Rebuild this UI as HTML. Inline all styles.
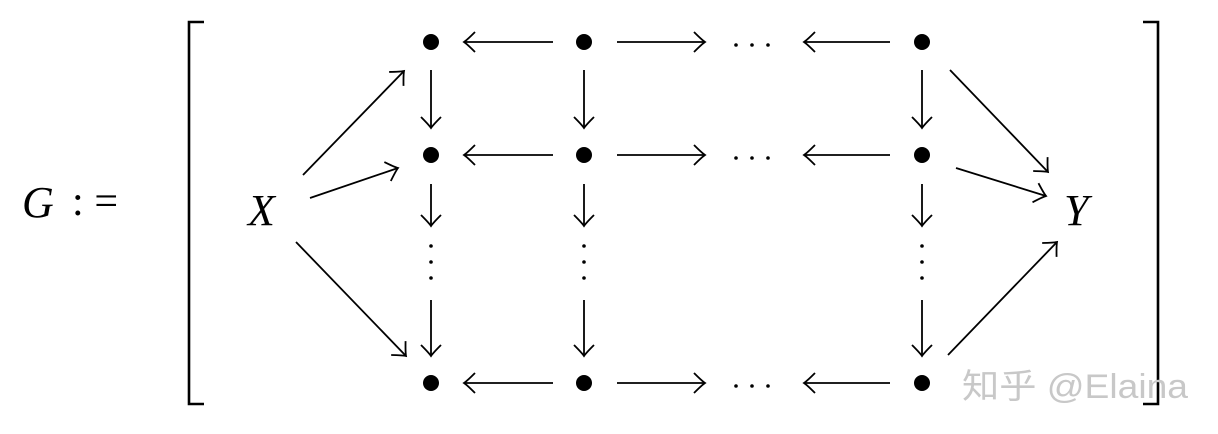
<!DOCTYPE html>
<html><head><meta charset="utf-8"><style>
html,body{margin:0;padding:0;background:#fff;}
svg{display:block}
</style></head><body>
<svg width="1218" height="434" viewBox="0 0 1218 434" xmlns="http://www.w3.org/2000/svg">
<defs>
<marker id="ah" viewBox="-12 -11 14 22" refX="0" refY="0" markerWidth="14" markerHeight="22" markerUnits="userSpaceOnUse" orient="auto">
<path d="M-11,-10 Q-3,-2 0,0 Q-3,2 -11,10" fill="none" stroke="#000" stroke-width="1.8"/>
</marker>
</defs>
<g font-family="Liberation Serif, serif" font-style="italic" font-size="44">
<text x="22" y="217">G</text>
<text x="248" y="225">X</text>
<text x="1064" y="225">Y</text>
</g>
<text x="72" y="215" font-family="Liberation Serif, serif" font-size="42" textLength="46" lengthAdjust="spacing">:=</text>
<g fill="none" stroke="#000" stroke-width="2.6">
<path d="M204,22 H189 V404 H204"/>
<path d="M1143,22 H1158 V404 H1143"/>
</g>
<g fill="#000">
<circle cx="431" cy="42" r="8"/><circle cx="584" cy="42" r="8"/><circle cx="922" cy="42" r="8"/>
<circle cx="431" cy="155" r="8"/><circle cx="584" cy="155" r="8"/><circle cx="922" cy="155" r="8"/>
<circle cx="431" cy="383" r="8"/><circle cx="584" cy="383" r="8"/><circle cx="922" cy="383" r="8"/>
</g>
<g fill="#000">
<circle cx="736" cy="45" r="1.8"/><circle cx="752" cy="45" r="1.8"/><circle cx="768" cy="45" r="1.8"/>
<circle cx="736" cy="158" r="1.8"/><circle cx="752" cy="158" r="1.8"/><circle cx="768" cy="158" r="1.8"/>
<circle cx="736" cy="386" r="1.8"/><circle cx="752" cy="386" r="1.8"/><circle cx="768" cy="386" r="1.8"/>
<circle cx="431" cy="246" r="1.8"/><circle cx="431" cy="262" r="1.8"/><circle cx="431" cy="278" r="1.8"/>
<circle cx="584" cy="246" r="1.8"/><circle cx="584" cy="262" r="1.8"/><circle cx="584" cy="278" r="1.8"/>
<circle cx="922" cy="246" r="1.8"/><circle cx="922" cy="262" r="1.8"/><circle cx="922" cy="278" r="1.8"/>
</g>
<g stroke="#000" stroke-width="1.8" fill="none" marker-end="url(#ah)">
<line x1="553" y1="42" x2="464" y2="42"/><line x1="617" y1="42" x2="705" y2="42"/><line x1="890" y1="42" x2="804" y2="42"/>
<line x1="553" y1="155" x2="464" y2="155"/><line x1="617" y1="155" x2="705" y2="155"/><line x1="890" y1="155" x2="804" y2="155"/>
<line x1="553" y1="383" x2="464" y2="383"/><line x1="617" y1="383" x2="705" y2="383"/><line x1="890" y1="383" x2="804" y2="383"/>
<line x1="431" y1="70" x2="431" y2="128"/><line x1="584" y1="70" x2="584" y2="128"/><line x1="922" y1="70" x2="922" y2="128"/>
<line x1="431" y1="184" x2="431" y2="226"/><line x1="584" y1="184" x2="584" y2="226"/><line x1="922" y1="184" x2="922" y2="226"/>
<line x1="431" y1="300" x2="431" y2="356"/><line x1="584" y1="300" x2="584" y2="356"/><line x1="922" y1="300" x2="922" y2="356"/>
<line x1="303" y1="175" x2="404" y2="71"/>
<line x1="310" y1="198" x2="398" y2="168"/>
<line x1="296" y1="242" x2="406" y2="356"/>
<line x1="950" y1="70" x2="1048" y2="172"/>
<line x1="956" y1="168" x2="1046" y2="196"/>
<line x1="948" y1="355" x2="1057" y2="242"/>
</g>
<text x="962" y="398" font-family="Liberation Sans, Noto Sans CJK SC, sans-serif" font-size="34" fill="#c8c8c8" textLength="226" lengthAdjust="spacingAndGlyphs">知乎 @Elaina</text>
</svg>
</body></html>
